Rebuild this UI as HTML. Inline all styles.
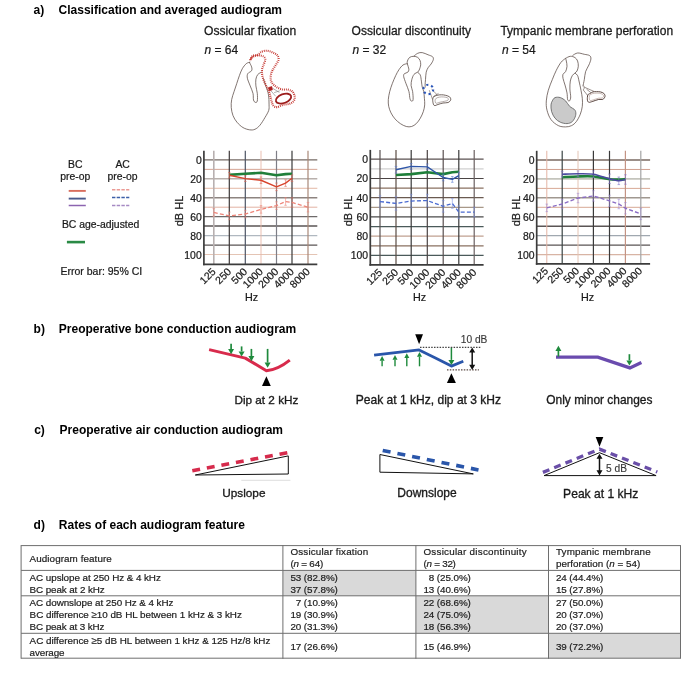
<!DOCTYPE html>
<html><head><meta charset="utf-8"><title>Audiogram figure</title>
<style>
html,body{margin:0;padding:0;background:#fff;}
body{width:685px;height:676px;overflow:hidden;}
svg{display:block;font-family:'Liberation Sans', Arial, sans-serif;}
</style></head><body>
<svg width="685" height="676" viewBox="0 0 685 676">
<rect width="685" height="676" fill="#fff"/>
<text x="33.6" y="13.9" font-size="12" font-weight="bold" fill="#000">a)</text>
<text x="58.6" y="13.9" font-size="12" font-weight="bold" fill="#000">Classification and averaged audiogram</text>
<text x="33.6" y="332.8" font-size="12" font-weight="bold" fill="#000">b)</text>
<text x="58.8" y="332.8" font-size="12" font-weight="bold" fill="#000">Preoperative bone conduction audiogram</text>
<text x="34.2" y="434.3" font-size="12" font-weight="bold" fill="#000">c)</text>
<text x="59.6" y="434.3" font-size="12" font-weight="bold" fill="#000">Preoperative air conduction audiogram</text>
<text x="33.6" y="528.7" font-size="12" font-weight="bold" fill="#000">d)</text>
<text x="58.8" y="528.7" font-size="12" font-weight="bold" fill="#000">Rates of each audiogram feature</text>
<text x="204.1" y="34.9" font-size="12.1" fill="#1a1a1a" stroke="#1a1a1a" stroke-width="0.28">Ossicular fixation</text>
<text x="351.6" y="34.9" font-size="12" fill="#1a1a1a" stroke="#1a1a1a" stroke-width="0.28">Ossicular discontinuity</text>
<text x="500.4" y="34.9" font-size="12" fill="#1a1a1a" stroke="#1a1a1a" stroke-width="0.28">Tympanic membrane perforation</text>
<text x="204.4" y="53.8" font-size="12" fill="#1a1a1a" stroke="#1a1a1a" stroke-width="0.22"><tspan font-style="italic">n</tspan> = 64</text>
<text x="352.4" y="53.8" font-size="12" fill="#1a1a1a" stroke="#1a1a1a" stroke-width="0.22"><tspan font-style="italic">n</tspan> = 32</text>
<text x="501.9" y="53.8" font-size="12" fill="#1a1a1a" stroke="#1a1a1a" stroke-width="0.22"><tspan font-style="italic">n</tspan> = 54</text>
<text x="75.3" y="167.6" font-size="10.4" text-anchor="middle" fill="#1a1a1a" stroke="#1a1a1a" stroke-width="0.22">BC</text>
<text x="75.2" y="180" font-size="10.4" text-anchor="middle" fill="#1a1a1a" stroke="#1a1a1a" stroke-width="0.22">pre-op</text>
<text x="122.6" y="167.6" font-size="10.4" text-anchor="middle" fill="#1a1a1a" stroke="#1a1a1a" stroke-width="0.22">AC</text>
<text x="122.6" y="180" font-size="10.4" text-anchor="middle" fill="#1a1a1a" stroke="#1a1a1a" stroke-width="0.22">pre-op</text>
<line x1="68.7" y1="190.9" x2="85.8" y2="190.9" stroke="#d86e5e" stroke-width="1.9"/>
<line x1="68.7" y1="198.6" x2="85.8" y2="198.6" stroke="#4a5a8c" stroke-width="1.9"/>
<line x1="68.7" y1="205.5" x2="85.8" y2="205.5" stroke="#8c64b0" stroke-width="1.5"/>
<line x1="112" y1="189.8" x2="129.3" y2="189.8" stroke="#eb9a94" stroke-width="1.6" stroke-dasharray="3.4,1.3"/>
<line x1="112" y1="197.5" x2="129.3" y2="197.5" stroke="#3d5fa8" stroke-width="1.6" stroke-dasharray="3.4,1.3"/>
<line x1="112" y1="205.5" x2="129.3" y2="205.5" stroke="#a68ac4" stroke-width="1.6" stroke-dasharray="3.4,1.3"/>
<text x="61.9" y="228.0" font-size="10.4" fill="#1a1a1a" stroke="#1a1a1a" stroke-width="0.22">BC age-adjusted</text>
<line x1="66.9" y1="242.1" x2="85" y2="242.1" stroke="#2a8a45" stroke-width="2.6"/>
<text x="60.5" y="274.7" font-size="10.5" fill="#1a1a1a" stroke="#1a1a1a" stroke-width="0.22">Error bar: 95% CI</text>
<line x1="203.9" y1="159.90" x2="317.3" y2="159.90" stroke="#746a64" stroke-width="1.4"/>
<line x1="203.9" y1="169.36" x2="317.3" y2="169.36" stroke="#d09a88" stroke-width="0.9"/>
<line x1="203.9" y1="178.82" x2="317.3" y2="178.82" stroke="#b8b0ac" stroke-width="1.6"/>
<line x1="203.9" y1="188.28" x2="317.3" y2="188.28" stroke="#e0ae98" stroke-width="0.9"/>
<line x1="203.9" y1="197.74" x2="317.3" y2="197.74" stroke="#8d8480" stroke-width="1.4"/>
<line x1="203.9" y1="207.20" x2="317.3" y2="207.20" stroke="#e0a898" stroke-width="0.9"/>
<line x1="203.9" y1="216.66" x2="317.3" y2="216.66" stroke="#6e6a6a" stroke-width="1.3"/>
<line x1="203.9" y1="226.12" x2="317.3" y2="226.12" stroke="#5a5555" stroke-width="1.5"/>
<line x1="203.9" y1="235.58" x2="317.3" y2="235.58" stroke="#b0b8c0" stroke-width="1.1"/>
<line x1="203.9" y1="245.04" x2="317.3" y2="245.04" stroke="#5a5555" stroke-width="1.3"/>
<line x1="203.9" y1="254.50" x2="317.3" y2="254.50" stroke="#e4c4b4" stroke-width="1.1"/>
<line x1="213.8" y1="150.8" x2="213.8" y2="264.3" stroke="#b8b0b0" stroke-width="1.6"/>
<line x1="229.3" y1="150.8" x2="229.3" y2="264.3" stroke="#3e3838" stroke-width="1.2"/>
<line x1="245.3" y1="150.8" x2="245.3" y2="264.3" stroke="#4c5464" stroke-width="1.2"/>
<line x1="261" y1="150.8" x2="261" y2="264.3" stroke="#e8b8a8" stroke-width="0.9"/>
<line x1="276.5" y1="150.8" x2="276.5" y2="264.3" stroke="#7e7e86" stroke-width="1.2"/>
<line x1="292" y1="150.8" x2="292" y2="264.3" stroke="#3a3a3a" stroke-width="1.2"/>
<line x1="308" y1="150.8" x2="308" y2="264.3" stroke="#a88878" stroke-width="1.2"/>
<line x1="203.9" y1="150.8" x2="203.9" y2="265.15000000000003" stroke="#3c3c3c" stroke-width="1.7"/>
<line x1="203.05" y1="264.3" x2="317.3" y2="264.3" stroke="#3c3c3c" stroke-width="1.7"/>
<text x="201.70000000000002" y="163.90" font-size="10.4" text-anchor="end" fill="#1a1a1a" stroke="#1a1a1a" stroke-width="0.22">0</text>
<text x="201.70000000000002" y="182.82" font-size="10.4" text-anchor="end" fill="#1a1a1a" stroke="#1a1a1a" stroke-width="0.22">20</text>
<text x="201.70000000000002" y="201.74" font-size="10.4" text-anchor="end" fill="#1a1a1a" stroke="#1a1a1a" stroke-width="0.22">40</text>
<text x="201.70000000000002" y="220.66" font-size="10.4" text-anchor="end" fill="#1a1a1a" stroke="#1a1a1a" stroke-width="0.22">60</text>
<text x="201.70000000000002" y="239.58" font-size="10.4" text-anchor="end" fill="#1a1a1a" stroke="#1a1a1a" stroke-width="0.22">80</text>
<text x="201.70000000000002" y="258.50" font-size="10.4" text-anchor="end" fill="#1a1a1a" stroke="#1a1a1a" stroke-width="0.22">100</text>
<text transform="translate(183.3,211) rotate(-90)" font-size="11" text-anchor="middle" fill="#1a1a1a" stroke="#1a1a1a" stroke-width="0.22">dB HL</text>
<text transform="translate(216.40,272.30) rotate(-45)" font-size="10.5" text-anchor="end" fill="#1a1a1a" stroke="#1a1a1a" stroke-width="0.22">125</text>
<text transform="translate(231.90,272.30) rotate(-45)" font-size="10.5" text-anchor="end" fill="#1a1a1a" stroke="#1a1a1a" stroke-width="0.22">250</text>
<text transform="translate(247.90,272.30) rotate(-45)" font-size="10.5" text-anchor="end" fill="#1a1a1a" stroke="#1a1a1a" stroke-width="0.22">500</text>
<text transform="translate(263.60,272.30) rotate(-45)" font-size="10.5" text-anchor="end" fill="#1a1a1a" stroke="#1a1a1a" stroke-width="0.22">1000</text>
<text transform="translate(279.10,272.30) rotate(-45)" font-size="10.5" text-anchor="end" fill="#1a1a1a" stroke="#1a1a1a" stroke-width="0.22">2000</text>
<text transform="translate(294.60,272.30) rotate(-45)" font-size="10.5" text-anchor="end" fill="#1a1a1a" stroke="#1a1a1a" stroke-width="0.22">4000</text>
<text transform="translate(310.60,272.30) rotate(-45)" font-size="10.5" text-anchor="end" fill="#1a1a1a" stroke="#1a1a1a" stroke-width="0.22">8000</text>
<text x="251.6" y="301.1" font-size="10.8" text-anchor="middle" fill="#1a1a1a" stroke="#1a1a1a" stroke-width="0.22">Hz</text>
<path d="M213.80,208.62V216.19M212.50,208.62h2.6M212.50,216.19h2.6" stroke="#ee8478" stroke-width="0.7" fill="none" opacity="0.8"/>
<path d="M229.30,212.12V219.69M228.00,212.12h2.6M228.00,219.69h2.6" stroke="#ee8478" stroke-width="0.7" fill="none" opacity="0.8"/>
<path d="M245.30,210.23V217.80M244.00,210.23h2.6M244.00,217.80h2.6" stroke="#ee8478" stroke-width="0.7" fill="none" opacity="0.8"/>
<path d="M261.00,205.59V213.16M259.70,205.59h2.6M259.70,213.16h2.6" stroke="#ee8478" stroke-width="0.7" fill="none" opacity="0.8"/>
<path d="M276.50,201.81V209.38M275.20,201.81h2.6M275.20,209.38h2.6" stroke="#ee8478" stroke-width="0.7" fill="none" opacity="0.8"/>
<path d="M285.57,197.74V205.31M284.27,197.74h2.6M284.27,205.31h2.6" stroke="#ee8478" stroke-width="0.7" fill="none" opacity="0.8"/>
<path d="M292.00,197.74V207.20M290.70,197.74h2.6M290.70,207.20h2.6" stroke="#ee8478" stroke-width="0.7" fill="none" opacity="0.8"/>
<path d="M308.00,202.47V211.93M306.70,202.47h2.6M306.70,211.93h2.6" stroke="#ee8478" stroke-width="0.7" fill="none" opacity="0.8"/>
<polyline points="213.80,212.40 229.30,215.90 245.30,214.01 261.00,209.38 276.50,205.59 285.57,201.52 292.00,202.47 308.00,207.20" fill="none" stroke="#ee8478" stroke-width="1.3" stroke-linejoin="round" stroke-dasharray="4,2.2"/>
<polyline points="229.30,174.85 245.30,173.81 261.00,172.77 276.50,175.23 285.57,174.09 292.00,173.71" fill="none" stroke="#1f7f3a" stroke-width="2.6" stroke-linejoin="round"/>
<path d="M229.30,172.39V178.06M228.00,172.39h2.6M228.00,178.06h2.6" stroke="#e06a5a" stroke-width="0.7" fill="none" opacity="0.8"/>
<path d="M245.30,175.79V181.47M244.00,175.79h2.6M244.00,181.47h2.6" stroke="#e06a5a" stroke-width="0.7" fill="none" opacity="0.8"/>
<path d="M261.00,176.93V183.55M259.70,176.93h2.6M259.70,183.55h2.6" stroke="#e06a5a" stroke-width="0.7" fill="none" opacity="0.8"/>
<path d="M276.50,183.08V190.65M275.20,183.08h2.6M275.20,190.65h2.6" stroke="#e06a5a" stroke-width="0.7" fill="none" opacity="0.8"/>
<path d="M285.57,179.77V186.39M284.27,179.77h2.6M284.27,186.39h2.6" stroke="#e06a5a" stroke-width="0.7" fill="none" opacity="0.8"/>
<path d="M292.00,174.94V181.56M290.70,174.94h2.6M290.70,181.56h2.6" stroke="#e06a5a" stroke-width="0.7" fill="none" opacity="0.8"/>
<polyline points="229.30,175.23 245.30,178.63 261.00,180.24 276.50,186.86 285.57,183.08 292.00,178.25" fill="none" stroke="#d8442c" stroke-width="1.4" stroke-linejoin="round"/>
<line x1="370.3" y1="159.20" x2="483.6" y2="159.20" stroke="#5a5050" stroke-width="1.3"/>
<line x1="370.3" y1="168.82" x2="483.6" y2="168.82" stroke="#d0d0d0" stroke-width="1.2"/>
<line x1="370.3" y1="178.44" x2="483.6" y2="178.44" stroke="#4a4444" stroke-width="1.1"/>
<line x1="370.3" y1="188.06" x2="483.6" y2="188.06" stroke="#8a7060" stroke-width="1.3"/>
<line x1="370.3" y1="197.68" x2="483.6" y2="197.68" stroke="#6a5a50" stroke-width="1.3"/>
<line x1="370.3" y1="207.30" x2="483.6" y2="207.30" stroke="#a89888" stroke-width="1.2"/>
<line x1="370.3" y1="216.92" x2="483.6" y2="216.92" stroke="#4a4a4a" stroke-width="1.2"/>
<line x1="370.3" y1="226.54" x2="483.6" y2="226.54" stroke="#4a5a5a" stroke-width="1.2"/>
<line x1="370.3" y1="236.16" x2="483.6" y2="236.16" stroke="#c0a090" stroke-width="1.3"/>
<line x1="370.3" y1="245.78" x2="483.6" y2="245.78" stroke="#8a7060" stroke-width="1.2"/>
<line x1="370.3" y1="255.40" x2="483.6" y2="255.40" stroke="#4a5a5a" stroke-width="1.2"/>
<line x1="380" y1="149.9" x2="380" y2="264.9" stroke="#5a5252" stroke-width="1.2"/>
<line x1="396" y1="149.9" x2="396" y2="264.9" stroke="#5a4c44" stroke-width="1.2"/>
<line x1="411.2" y1="149.9" x2="411.2" y2="264.9" stroke="#3a3a3a" stroke-width="1.2"/>
<line x1="427.3" y1="149.9" x2="427.3" y2="264.9" stroke="#4a4242" stroke-width="1.2"/>
<line x1="443.2" y1="149.9" x2="443.2" y2="264.9" stroke="#5a5050" stroke-width="1.2"/>
<line x1="458.8" y1="149.9" x2="458.8" y2="264.9" stroke="#3a3a3a" stroke-width="1.2"/>
<line x1="474.2" y1="149.9" x2="474.2" y2="264.9" stroke="#6a6060" stroke-width="1.2"/>
<line x1="370.3" y1="149.9" x2="370.3" y2="265.75" stroke="#3c3c3c" stroke-width="1.7"/>
<line x1="369.45" y1="264.9" x2="483.6" y2="264.9" stroke="#3c3c3c" stroke-width="1.7"/>
<text x="368.1" y="163.20" font-size="10.4" text-anchor="end" fill="#1a1a1a" stroke="#1a1a1a" stroke-width="0.22">0</text>
<text x="368.1" y="182.44" font-size="10.4" text-anchor="end" fill="#1a1a1a" stroke="#1a1a1a" stroke-width="0.22">20</text>
<text x="368.1" y="201.68" font-size="10.4" text-anchor="end" fill="#1a1a1a" stroke="#1a1a1a" stroke-width="0.22">40</text>
<text x="368.1" y="220.92" font-size="10.4" text-anchor="end" fill="#1a1a1a" stroke="#1a1a1a" stroke-width="0.22">60</text>
<text x="368.1" y="240.16" font-size="10.4" text-anchor="end" fill="#1a1a1a" stroke="#1a1a1a" stroke-width="0.22">80</text>
<text x="368.1" y="259.40" font-size="10.4" text-anchor="end" fill="#1a1a1a" stroke="#1a1a1a" stroke-width="0.22">100</text>
<text transform="translate(352.2,211) rotate(-90)" font-size="11" text-anchor="middle" fill="#1a1a1a" stroke="#1a1a1a" stroke-width="0.22">dB HL</text>
<text transform="translate(382.90,273.10) rotate(-45)" font-size="10.5" text-anchor="end" fill="#1a1a1a" stroke="#1a1a1a" stroke-width="0.22">125</text>
<text transform="translate(398.90,273.10) rotate(-45)" font-size="10.5" text-anchor="end" fill="#1a1a1a" stroke="#1a1a1a" stroke-width="0.22">250</text>
<text transform="translate(414.10,273.10) rotate(-45)" font-size="10.5" text-anchor="end" fill="#1a1a1a" stroke="#1a1a1a" stroke-width="0.22">500</text>
<text transform="translate(430.20,273.10) rotate(-45)" font-size="10.5" text-anchor="end" fill="#1a1a1a" stroke="#1a1a1a" stroke-width="0.22">1000</text>
<text transform="translate(446.10,273.10) rotate(-45)" font-size="10.5" text-anchor="end" fill="#1a1a1a" stroke="#1a1a1a" stroke-width="0.22">2000</text>
<text transform="translate(461.70,273.10) rotate(-45)" font-size="10.5" text-anchor="end" fill="#1a1a1a" stroke="#1a1a1a" stroke-width="0.22">4000</text>
<text transform="translate(477.10,273.10) rotate(-45)" font-size="10.5" text-anchor="end" fill="#1a1a1a" stroke="#1a1a1a" stroke-width="0.22">8000</text>
<text x="419.6" y="301.1" font-size="10.8" text-anchor="middle" fill="#1a1a1a" stroke="#1a1a1a" stroke-width="0.22">Hz</text>
<path d="M380.00,195.76V207.30M378.70,195.76h2.6M378.70,207.30h2.6" stroke="#7a90e0" stroke-width="0.7" fill="none" opacity="0.8"/>
<path d="M396.00,196.72V210.19M394.70,196.72h2.6M394.70,210.19h2.6" stroke="#7a90e0" stroke-width="0.7" fill="none" opacity="0.8"/>
<path d="M411.20,194.31V207.78M409.90,194.31h2.6M409.90,207.78h2.6" stroke="#7a90e0" stroke-width="0.7" fill="none" opacity="0.8"/>
<path d="M427.30,194.31V206.82M426.00,194.31h2.6M426.00,206.82h2.6" stroke="#7a90e0" stroke-width="0.7" fill="none" opacity="0.8"/>
<path d="M443.20,200.57V212.11M441.90,200.57h2.6M441.90,212.11h2.6" stroke="#7a90e0" stroke-width="0.7" fill="none" opacity="0.8"/>
<path d="M452.33,198.64V208.26M451.03,198.64h2.6M451.03,208.26h2.6" stroke="#7a90e0" stroke-width="0.7" fill="none" opacity="0.8"/>
<path d="M458.80,205.86V218.36M457.50,205.86h2.6M457.50,218.36h2.6" stroke="#7a90e0" stroke-width="0.7" fill="none" opacity="0.8"/>
<path d="M474.20,207.30V216.92M472.90,207.30h2.6M472.90,216.92h2.6" stroke="#7a90e0" stroke-width="0.7" fill="none" opacity="0.8"/>
<polyline points="380.00,201.53 396.00,203.45 411.20,201.05 427.30,200.57 443.20,206.34 452.33,203.45 458.80,212.11 474.20,212.11" fill="none" stroke="#4a6ad0" stroke-width="1.3" stroke-linejoin="round" stroke-dasharray="4,2.2"/>
<polyline points="396.00,175.07 411.20,174.11 427.30,172.19 443.20,174.11 452.33,172.19 458.80,171.71" fill="none" stroke="#1f7f3a" stroke-width="2.6" stroke-linejoin="round"/>
<path d="M396.00,166.41V173.15M394.70,166.41h2.6M394.70,173.15h2.6" stroke="#5a7ad0" stroke-width="0.7" fill="none" opacity="0.8"/>
<path d="M411.20,163.53V169.30M409.90,163.53h2.6M409.90,169.30h2.6" stroke="#5a7ad0" stroke-width="0.7" fill="none" opacity="0.8"/>
<path d="M427.30,164.01V169.78M426.00,164.01h2.6M426.00,169.78h2.6" stroke="#5a7ad0" stroke-width="0.7" fill="none" opacity="0.8"/>
<path d="M443.20,174.11V180.84M441.90,174.11h2.6M441.90,180.84h2.6" stroke="#5a7ad0" stroke-width="0.7" fill="none" opacity="0.8"/>
<path d="M452.33,176.52V182.29M451.03,176.52h2.6M451.03,182.29h2.6" stroke="#5a7ad0" stroke-width="0.7" fill="none" opacity="0.8"/>
<path d="M458.80,172.19V178.92M457.50,172.19h2.6M457.50,178.92h2.6" stroke="#5a7ad0" stroke-width="0.7" fill="none" opacity="0.8"/>
<polyline points="396.00,169.78 411.20,166.41 427.30,166.90 443.20,177.48 452.33,179.40 458.80,175.55" fill="none" stroke="#2f56a8" stroke-width="1.4" stroke-linejoin="round"/>
<line x1="536.7" y1="160.00" x2="650.1" y2="160.00" stroke="#7a6a62" stroke-width="1.4"/>
<line x1="536.7" y1="169.46" x2="650.1" y2="169.46" stroke="#d0a090" stroke-width="1.0"/>
<line x1="536.7" y1="178.92" x2="650.1" y2="178.92" stroke="#c4c4bc" stroke-width="1.7"/>
<line x1="536.7" y1="188.38" x2="650.1" y2="188.38" stroke="#d8a894" stroke-width="1.0"/>
<line x1="536.7" y1="197.84" x2="650.1" y2="197.84" stroke="#a09890" stroke-width="1.5"/>
<line x1="536.7" y1="207.30" x2="650.1" y2="207.30" stroke="#d8a894" stroke-width="1.0"/>
<line x1="536.7" y1="216.76" x2="650.1" y2="216.76" stroke="#6a6060" stroke-width="1.3"/>
<line x1="536.7" y1="226.22" x2="650.1" y2="226.22" stroke="#5a5555" stroke-width="1.4"/>
<line x1="536.7" y1="235.68" x2="650.1" y2="235.68" stroke="#a0a8b0" stroke-width="1.3"/>
<line x1="536.7" y1="245.14" x2="650.1" y2="245.14" stroke="#5a5555" stroke-width="1.3"/>
<line x1="536.7" y1="254.60" x2="650.1" y2="254.60" stroke="#d8b4a4" stroke-width="1.1"/>
<line x1="546.8" y1="150.8" x2="546.8" y2="263.9" stroke="#e4b4a4" stroke-width="1.0"/>
<line x1="562.2" y1="150.8" x2="562.2" y2="263.9" stroke="#3a4444" stroke-width="1.2"/>
<line x1="578" y1="150.8" x2="578" y2="263.9" stroke="#e4c4b4" stroke-width="1.0"/>
<line x1="593.4" y1="150.8" x2="593.4" y2="263.9" stroke="#3a3a3a" stroke-width="1.2"/>
<line x1="609.5" y1="150.8" x2="609.5" y2="263.9" stroke="#3a3a3a" stroke-width="1.2"/>
<line x1="625.4" y1="150.8" x2="625.4" y2="263.9" stroke="#c49484" stroke-width="1.2"/>
<line x1="640.8" y1="150.8" x2="640.8" y2="263.9" stroke="#a4a4a4" stroke-width="1.2"/>
<line x1="536.7" y1="150.8" x2="536.7" y2="264.75" stroke="#3c3c3c" stroke-width="1.7"/>
<line x1="535.85" y1="263.9" x2="650.1" y2="263.9" stroke="#3c3c3c" stroke-width="1.7"/>
<text x="534.5" y="164.00" font-size="10.4" text-anchor="end" fill="#1a1a1a" stroke="#1a1a1a" stroke-width="0.22">0</text>
<text x="534.5" y="182.92" font-size="10.4" text-anchor="end" fill="#1a1a1a" stroke="#1a1a1a" stroke-width="0.22">20</text>
<text x="534.5" y="201.84" font-size="10.4" text-anchor="end" fill="#1a1a1a" stroke="#1a1a1a" stroke-width="0.22">40</text>
<text x="534.5" y="220.76" font-size="10.4" text-anchor="end" fill="#1a1a1a" stroke="#1a1a1a" stroke-width="0.22">60</text>
<text x="534.5" y="239.68" font-size="10.4" text-anchor="end" fill="#1a1a1a" stroke="#1a1a1a" stroke-width="0.22">80</text>
<text x="534.5" y="258.60" font-size="10.4" text-anchor="end" fill="#1a1a1a" stroke="#1a1a1a" stroke-width="0.22">100</text>
<text transform="translate(519.6,211) rotate(-90)" font-size="11" text-anchor="middle" fill="#1a1a1a" stroke="#1a1a1a" stroke-width="0.22">dB HL</text>
<text transform="translate(548.80,271.70) rotate(-45)" font-size="10.5" text-anchor="end" fill="#1a1a1a" stroke="#1a1a1a" stroke-width="0.22">125</text>
<text transform="translate(564.20,271.70) rotate(-45)" font-size="10.5" text-anchor="end" fill="#1a1a1a" stroke="#1a1a1a" stroke-width="0.22">250</text>
<text transform="translate(580.00,271.70) rotate(-45)" font-size="10.5" text-anchor="end" fill="#1a1a1a" stroke="#1a1a1a" stroke-width="0.22">500</text>
<text transform="translate(595.40,271.70) rotate(-45)" font-size="10.5" text-anchor="end" fill="#1a1a1a" stroke="#1a1a1a" stroke-width="0.22">1000</text>
<text transform="translate(611.50,271.70) rotate(-45)" font-size="10.5" text-anchor="end" fill="#1a1a1a" stroke="#1a1a1a" stroke-width="0.22">2000</text>
<text transform="translate(627.40,271.70) rotate(-45)" font-size="10.5" text-anchor="end" fill="#1a1a1a" stroke="#1a1a1a" stroke-width="0.22">4000</text>
<text transform="translate(642.80,271.70) rotate(-45)" font-size="10.5" text-anchor="end" fill="#1a1a1a" stroke="#1a1a1a" stroke-width="0.22">8000</text>
<text x="587.6" y="301.1" font-size="10.8" text-anchor="middle" fill="#1a1a1a" stroke="#1a1a1a" stroke-width="0.22">Hz</text>
<path d="M546.80,204.08V211.65M545.50,204.08h2.6M545.50,211.65h2.6" stroke="#a088d4" stroke-width="0.7" fill="none" opacity="0.8"/>
<path d="M562.20,199.26V208.72M560.90,199.26h2.6M560.90,208.72h2.6" stroke="#a088d4" stroke-width="0.7" fill="none" opacity="0.8"/>
<path d="M578.00,193.30V202.76M576.70,193.30h2.6M576.70,202.76h2.6" stroke="#a088d4" stroke-width="0.7" fill="none" opacity="0.8"/>
<path d="M593.40,190.75V201.15M592.10,190.75h2.6M592.10,201.15h2.6" stroke="#a088d4" stroke-width="0.7" fill="none" opacity="0.8"/>
<path d="M609.50,195.19V206.54M608.20,195.19h2.6M608.20,206.54h2.6" stroke="#a088d4" stroke-width="0.7" fill="none" opacity="0.8"/>
<path d="M618.80,199.26V208.72M617.50,199.26h2.6M617.50,208.72h2.6" stroke="#a088d4" stroke-width="0.7" fill="none" opacity="0.8"/>
<path d="M625.40,202.57V213.92M624.10,202.57h2.6M624.10,213.92h2.6" stroke="#a088d4" stroke-width="0.7" fill="none" opacity="0.8"/>
<path d="M640.80,208.25V219.60M639.50,208.25h2.6M639.50,219.60h2.6" stroke="#a088d4" stroke-width="0.7" fill="none" opacity="0.8"/>
<polyline points="546.80,207.87 562.20,203.99 578.00,198.03 593.40,195.95 609.50,200.87 618.80,203.99 625.40,208.25 640.80,213.92" fill="none" stroke="#8a6cc4" stroke-width="1.4" stroke-linejoin="round" stroke-dasharray="4,2.2"/>
<path d="M562.20,177.22 C564.31,177.12 573.84,176.56 578.00,176.46 C582.16,176.36 589.20,176.09 593.40,176.46 C597.60,176.83 606.11,178.80 609.50,179.20 C612.89,179.61 616.68,179.50 618.80,179.49 C620.92,179.47 624.52,179.16 625.40,179.11" fill="none" stroke="#1f7f3a" stroke-width="2.6" stroke-linejoin="round"/>
<path d="M562.20,171.35V177.03M560.90,171.35h2.6M560.90,177.03h2.6" stroke="#8070c8" stroke-width="0.7" fill="none" opacity="0.8"/>
<path d="M578.00,170.88V176.56M576.70,170.88h2.6M576.70,176.56h2.6" stroke="#8070c8" stroke-width="0.7" fill="none" opacity="0.8"/>
<path d="M593.40,170.88V177.50M592.10,170.88h2.6M592.10,177.50h2.6" stroke="#8070c8" stroke-width="0.7" fill="none" opacity="0.8"/>
<path d="M609.50,174.10V183.56M608.20,174.10h2.6M608.20,183.56h2.6" stroke="#8070c8" stroke-width="0.7" fill="none" opacity="0.8"/>
<path d="M618.80,177.03V184.60M617.50,177.03h2.6M617.50,184.60h2.6" stroke="#8070c8" stroke-width="0.7" fill="none" opacity="0.8"/>
<path d="M625.40,174.76V184.22M624.10,174.76h2.6M624.10,184.22h2.6" stroke="#8070c8" stroke-width="0.7" fill="none" opacity="0.8"/>
<path d="M562.20,174.19 C564.31,174.13 573.84,173.72 578.00,173.72 C582.16,173.72 589.20,173.51 593.40,174.19 C597.60,174.87 606.11,177.94 609.50,178.83 C612.89,179.71 616.68,180.72 618.80,180.81 C620.92,180.90 624.52,179.66 625.40,179.49" fill="none" stroke="#4a4aa0" stroke-width="1.6" stroke-linejoin="round"/>
<path d="M209.1,349.6 L245.3,358.1 L266.4,370.8 C275,370 283,365.5 289.8,360.1" fill="none" stroke="#d82b4c" stroke-width="3" stroke-linejoin="round"/>
<line x1="231.1" y1="343.8" x2="231.1" y2="349.0" stroke="#1e8a3c" stroke-width="1.7"/>
<path d="M228.1,349.0 L234.1,349.0 L231.1,354.2 Z" fill="#1e8a3c"/>
<line x1="241.6" y1="346.4" x2="241.6" y2="351.40000000000003" stroke="#1e8a3c" stroke-width="1.7"/>
<path d="M238.6,351.40000000000003 L244.6,351.40000000000003 L241.6,356.6 Z" fill="#1e8a3c"/>
<line x1="251.4" y1="348.9" x2="251.4" y2="356.1" stroke="#1e8a3c" stroke-width="1.7"/>
<path d="M248.4,356.1 L254.4,356.1 L251.4,361.3 Z" fill="#1e8a3c"/>
<line x1="267.6" y1="348.9" x2="267.6" y2="362.6" stroke="#1e8a3c" stroke-width="1.7"/>
<path d="M264.6,362.6 L270.6,362.6 L267.6,367.8 Z" fill="#1e8a3c"/>
<path d="M262.0,386.1 L270.79999999999995,386.1 L266.4,376.3 Z" fill="#000"/>
<text x="234.4" y="404.4" font-size="11.75" fill="#1a1a1a" stroke="#1a1a1a" stroke-width="0.32">Dip at 2 kHz</text>
<path d="M374.1,355.2 L419.1,349.9 Q436,358 451.4,366.1 L463.3,361.3" fill="none" stroke="#2a56aa" stroke-width="2.8" stroke-linejoin="round"/>
<line x1="382.1" y1="366.3" x2="382.1" y2="360.7" stroke="#1e8a3c" stroke-width="1.4"/>
<path d="M379.6,360.7 L384.6,360.7 L382.1,355.9 Z" fill="#1e8a3c"/>
<line x1="395" y1="366.3" x2="395" y2="359.7" stroke="#1e8a3c" stroke-width="1.4"/>
<path d="M392.5,359.7 L397.5,359.7 L395,354.9 Z" fill="#1e8a3c"/>
<line x1="406.8" y1="366.3" x2="406.8" y2="358.0" stroke="#1e8a3c" stroke-width="1.4"/>
<path d="M404.3,358.0 L409.3,358.0 L406.8,353.2 Z" fill="#1e8a3c"/>
<line x1="419.5" y1="366.3" x2="419.5" y2="356.7" stroke="#1e8a3c" stroke-width="1.4"/>
<path d="M417.0,356.7 L422.0,356.7 L419.5,351.9 Z" fill="#1e8a3c"/>
<line x1="451.4" y1="347.5" x2="451.4" y2="359.90000000000003" stroke="#1e8a3c" stroke-width="1.5"/>
<path d="M448.4,359.90000000000003 L454.4,359.90000000000003 L451.4,365.1 Z" fill="#1e8a3c"/>
<path d="M415.20000000000005,334.2 L423.0,334.2 L419.1,344.2 Z" fill="#000"/>
<path d="M446.9,383.1 L455.9,383.1 L451.4,373.3 Z" fill="#000"/>
<line x1="420" y1="347.4" x2="481.2" y2="347.4" stroke="#444" stroke-width="1.2" stroke-dasharray="1.5,1.3"/>
<line x1="447" y1="369.9" x2="478.9" y2="369.9" stroke="#5a4a45" stroke-width="1.2" stroke-dasharray="1.5,1.3"/>
<line x1="472.2" y1="350" x2="472.2" y2="367.4" stroke="#111" stroke-width="1.5"/>
<path d="M469.2,352.6 L475.2,352.6 L472.2,347.5 Z M469.2,364.8 L475.2,364.8 L472.2,369.9 Z" fill="#111"/>
<text x="460.8" y="343.0" font-size="10.2" fill="#3a3a3a" stroke="#3a3a3a" stroke-width="0.15">10 dB</text>
<text x="355.8" y="404.3" font-size="12.05" fill="#1a1a1a" stroke="#1a1a1a" stroke-width="0.32">Peak at 1 kHz, dip at 3 kHz</text>
<path d="M556,357.2 L597.8,357.2 L629.9,367.9 L641.4,362.4" fill="none" stroke="#6a4bae" stroke-width="3.3" stroke-linejoin="miter"/>
<line x1="558.4" y1="356.6" x2="558.4" y2="350.9" stroke="#1e8a3c" stroke-width="1.7"/>
<path d="M555.4,350.9 L561.4,350.9 L558.4,345.7 Z" fill="#1e8a3c"/>
<line x1="629.4" y1="354.2" x2="629.4" y2="360.40000000000003" stroke="#1e8a3c" stroke-width="1.7"/>
<path d="M626.4,360.40000000000003 L632.4,360.40000000000003 L629.4,365.6 Z" fill="#1e8a3c"/>
<text x="546.3" y="403.9" font-size="11.95" fill="#1a1a1a" stroke="#1a1a1a" stroke-width="0.32">Only minor changes</text>
<path d="M195.3,475 L288.3,455.9 L288.3,474 Z" fill="#fff" stroke="#111" stroke-width="1" stroke-linejoin="miter"/>
<line x1="241.3" y1="480.3" x2="290.4" y2="480.3" stroke="#d4d4d4" stroke-width="0.8"/>
<line x1="192.3" y1="470.7" x2="289.3" y2="452.3" stroke="#d62b4c" stroke-width="3.6" stroke-dasharray="7.9,6.9"/>
<text x="222.2" y="497.1" font-size="11.8" fill="#1a1a1a" stroke="#1a1a1a" stroke-width="0.32">Upslope</text>
<path d="M379.9,454.5 L379.9,472.2 L473.3,473.9 Z" fill="#fff" stroke="#111" stroke-width="1" stroke-linejoin="miter"/>
<line x1="382.7" y1="450.5" x2="478.5" y2="469.9" stroke="#2a56aa" stroke-width="3.6" stroke-dasharray="8,7"/>
<text x="397.3" y="497.3" font-size="12" fill="#1a1a1a" stroke="#1a1a1a" stroke-width="0.32">Downslope</text>
<path d="M544.1,475.6 L599.5,452.7 L656.1,475.6 Z" fill="#fff" stroke="#111" stroke-width="1"/>
<polyline points="542.9,472.4 599.5,449.1 657.3,472" fill="none" stroke="#6a4fa8" stroke-width="3.3" stroke-dasharray="7,5.2"/>
<path d="M595.7,437 L603.3,437 L599.5,446.7 Z" fill="#000"/>
<line x1="599.5" y1="457" x2="599.5" y2="472" stroke="#111" stroke-width="1.5"/>
<path d="M596.5,458.8 L602.5,458.8 L599.5,453.7 Z M596.5,470.3 L602.5,470.3 L599.5,475.4 Z" fill="#111"/>
<text x="606.0" y="472.2" font-size="10.2" fill="#3a3a3a" stroke="#3a3a3a" stroke-width="0.15">5 dB</text>
<text x="563.1" y="497.5" font-size="12.1" fill="#1a1a1a" stroke="#1a1a1a" stroke-width="0.32">Peak at 1 kHz</text>
<path d="M250.30,62.04 C249.63,62.31 247.64,62.53 246.30,63.64 C244.97,64.75 243.46,66.70 242.31,68.70 C241.16,70.70 240.31,73.14 239.38,75.63 C238.45,78.11 237.61,80.95 236.72,83.62 C235.83,86.28 234.90,88.94 234.05,91.60 C233.21,94.27 232.12,96.93 231.66,99.59 C231.19,102.26 231.04,104.92 231.26,107.58 C231.48,110.25 232.04,113.13 232.99,115.57 C233.94,118.01 235.32,120.23 236.98,122.23 C238.65,124.23 240.87,126.29 242.98,127.56 C245.08,128.82 247.64,129.53 249.63,129.82 C251.63,130.11 253.25,130.04 254.96,129.29 C256.67,128.53 258.22,127.25 259.89,125.29 C261.55,123.34 263.48,120.03 264.95,117.57 C266.41,115.11 267.99,112.62 268.68,110.51 C269.36,108.40 269.03,106.74 269.07,104.92 C269.12,103.10 269.05,101.32 268.94,99.59 C268.83,97.86 268.68,96.09 268.41,94.53 C268.14,92.98 267.92,92.09 267.34,90.27 C266.77,88.45 265.61,85.61 264.95,83.62 C264.28,81.62 263.62,79.18 263.35,78.29" fill="none" stroke="#4a3a34" stroke-width="0.7" stroke-linejoin="round"/>
<path d="M249.30,62.20 C249.68,62.98 251.22,65.48 251.60,66.90 C251.98,68.32 252.23,69.58 251.60,70.70 C250.97,71.82 248.50,72.33 247.80,73.60 C247.10,74.87 247.00,76.25 247.40,78.30 C247.80,80.35 249.27,83.38 250.20,85.90 C251.13,88.42 252.45,91.05 253.00,93.40 C253.55,95.75 253.10,98.50 253.50,100.00 C253.90,101.50 254.77,102.23 255.40,102.40 C256.03,102.57 256.98,102.50 257.30,101.00 C257.62,99.50 257.53,95.92 257.30,93.40 C257.07,90.88 256.13,88.27 255.90,85.90 C255.67,83.53 255.58,81.10 255.90,79.20 C256.22,77.30 256.85,75.68 257.80,74.50 C258.75,73.32 260.97,72.50 261.60,72.10" fill="none" stroke="#4a3a34" stroke-width="0.7" stroke-linejoin="round"/>
<path d="M270.8,90.6 L275.6,96.2 M272.4,88.2 L279.4,92.4 M274.2,92.6 L279.8,90.8" fill="none" stroke="#7a7a7a" stroke-width="0.6" stroke-linejoin="round"/>
<ellipse cx="283.5" cy="98.6" rx="8" ry="4.4" transform="rotate(-20 283.5 98.6)" fill="#fff" stroke="#9c1c1c" stroke-width="1.8"/>
<path d="M268.5,87.6 L271.8,86.6 L272.4,89.8 L269.3,90.8 Z" fill="#b02020" stroke="#b02020" stroke-width="0.7" stroke-linejoin="round"/>
<path d="M250.20,60.30 C250.20,60.13 251.27,56.95 252.60,56.00 C253.93,55.05 256.87,55.22 258.20,54.60 C259.53,53.98 259.48,52.93 260.60,52.30 C261.72,51.67 263.40,50.97 264.90,50.80 C266.40,50.63 268.03,50.90 269.60,51.30 C271.17,51.70 272.97,52.48 274.30,53.20 C275.63,53.92 276.88,54.57 277.60,55.60 C278.32,56.63 278.75,58.07 278.60,59.40 C278.45,60.73 277.48,62.18 276.70,63.60 C275.92,65.02 274.77,66.40 273.90,67.90 C273.03,69.40 272.05,70.87 271.50,72.60 C270.95,74.33 270.52,76.57 270.60,78.30 C270.68,80.03 271.07,81.58 272.00,83.00 C272.93,84.42 274.55,85.73 276.20,86.80 C277.85,87.87 280.00,88.93 281.90,89.40 C283.80,89.87 285.87,89.25 287.60,89.60 C289.33,89.95 291.12,90.38 292.30,91.50 C293.48,92.62 294.47,94.72 294.70,96.30 C294.93,97.88 294.57,99.75 293.70,101.00 C292.83,102.25 291.30,103.17 289.50,103.80 C287.70,104.43 284.95,104.25 282.90,104.80 C280.85,105.35 278.78,106.95 277.20,107.10 C275.62,107.25 274.35,106.72 273.40,105.70 C272.45,104.68 272.13,103.05 271.50,101.00 C270.87,98.95 270.23,95.45 269.60,93.40 C268.97,91.35 268.48,90.43 267.70,88.70 C266.92,86.97 265.77,85.05 264.90,83.00 C264.03,80.95 262.98,78.60 262.50,76.40 C262.02,74.20 261.83,71.70 262.00,69.80 C262.17,67.90 262.95,66.73 263.50,65.00 C264.05,63.27 265.30,60.82 265.30,59.40 C265.30,57.98 264.37,57.13 263.50,56.50 C262.63,55.87 261.28,55.75 260.10,55.60 C258.92,55.45 257.65,55.37 256.40,55.60 C255.15,55.83 253.63,56.22 252.60,57.00 C251.57,57.78 250.20,60.47 250.20,60.30Z" fill="none" stroke="#c4342e" stroke-width="2.1" stroke-linejoin="round" stroke-dasharray="0.9,1.05"/>
<path d="M407.40,63.60 C406.67,63.83 404.40,64.00 403.00,65.00 C401.60,66.00 400.22,67.83 399.00,69.60 C397.78,71.37 396.82,73.27 395.70,75.60 C394.58,77.93 393.30,80.93 392.30,83.60 C391.30,86.27 390.37,88.93 389.70,91.60 C389.03,94.27 388.47,97.15 388.30,99.60 C388.13,102.05 388.25,104.08 388.70,106.30 C389.15,108.52 389.95,110.80 391.00,112.90 C392.05,115.00 393.45,117.12 395.00,118.90 C396.55,120.68 398.42,122.33 400.30,123.60 C402.18,124.87 404.42,126.02 406.30,126.50 C408.18,126.98 409.93,126.98 411.60,126.50 C413.27,126.02 414.85,124.98 416.30,123.60 C417.75,122.22 419.13,120.20 420.30,118.20 C421.47,116.20 422.57,113.82 423.30,111.60 C424.03,109.38 424.52,107.12 424.70,104.90 C424.88,102.68 424.57,100.55 424.40,98.30 C424.23,96.05 424.07,93.28 423.70,91.40 C423.33,89.52 422.58,88.72 422.20,87.00 C421.82,85.28 421.72,83.08 421.40,81.10 C421.08,79.12 420.92,76.58 420.30,75.10 C419.68,73.62 418.13,72.68 417.70,72.20" fill="none" stroke="#4a3a34" stroke-width="0.7" stroke-linejoin="round"/>
<path d="M417.70,72.20 C417.95,71.83 418.70,71.23 419.20,70.00 C419.70,68.77 420.57,66.40 420.70,64.80 C420.83,63.20 420.50,61.63 420.00,60.40 C419.50,59.17 418.75,58.08 417.70,57.40 C416.65,56.72 415.05,56.30 413.70,56.30 C412.35,56.30 410.65,56.60 409.60,57.40 C408.55,58.20 407.77,60.00 407.40,61.10 C407.03,62.20 407.15,62.65 407.40,64.00 C407.65,65.35 408.83,67.83 408.90,69.20 C408.97,70.57 408.55,71.45 407.80,72.20 C407.05,72.95 405.08,72.97 404.40,73.70 C403.72,74.43 403.45,75.00 403.70,76.60 C403.95,78.20 405.03,80.83 405.90,83.30 C406.77,85.77 408.22,88.82 408.90,91.40 C409.58,93.98 409.55,97.17 410.00,98.80 C410.45,100.43 411.08,101.08 411.60,101.20 C412.12,101.32 412.93,101.13 413.10,99.50 C413.27,97.87 412.93,93.73 412.60,91.40 C412.27,89.07 411.23,87.47 411.10,85.50 C410.97,83.53 411.32,81.45 411.80,79.60 C412.28,77.75 413.02,75.63 414.00,74.40 C414.98,73.17 417.08,72.57 417.70,72.20" fill="none" stroke="#4a3a34" stroke-width="0.7" stroke-linejoin="round"/>
<path d="M413.70,56.30 C414.37,55.80 416.28,53.92 417.70,53.30 C419.12,52.68 420.47,52.35 422.20,52.60 C423.93,52.85 426.38,54.12 428.10,54.80 C429.82,55.48 431.63,55.90 432.50,56.70 C433.37,57.50 433.53,58.38 433.30,59.60 C433.07,60.82 431.97,62.65 431.10,64.00 C430.23,65.35 428.92,66.33 428.10,67.70 C427.28,69.07 426.63,70.22 426.20,72.20 C425.77,74.18 425.68,77.50 425.50,79.60 C425.32,81.70 425.13,83.48 425.10,84.80 C425.07,86.12 425.27,87.05 425.30,87.50" fill="none" stroke="#4a3a34" stroke-width="0.7" stroke-linejoin="round"/>
<path d="M429.3,90.2 L432.6,99.6 M431.5,89.2 L437,94.6 M433,96.8 L438.5,93.4" fill="none" stroke="#6a5a55" stroke-width="0.6" stroke-linejoin="round"/>
<path d="M432.80,101.50 C432.97,102.85 433.45,105.00 434.30,105.50 C435.15,106.00 436.45,104.92 437.90,104.50 C439.35,104.08 441.30,103.33 443.00,103.00 C444.70,102.67 446.82,103.02 448.10,102.50 C449.38,101.98 450.45,100.83 450.70,99.90 C450.95,98.97 450.47,97.67 449.60,96.90 C448.73,96.13 446.85,95.65 445.50,95.30 C444.15,94.95 442.93,94.80 441.50,94.80 C440.07,94.80 438.27,94.87 436.90,95.30 C435.53,95.73 433.98,96.37 433.30,97.40 C432.62,98.43 432.63,100.15 432.80,101.50Z" fill="#fff" stroke="#4a3a34" stroke-width="0.8" stroke-linejoin="round"/>
<path d="M435.20,101.80 C435.35,102.48 435.50,103.23 436.30,103.30 C437.10,103.37 438.63,102.53 440.00,102.20 C441.37,101.87 443.23,101.60 444.50,101.30 C445.77,101.00 446.97,100.85 447.60,100.40 C448.23,99.95 448.57,99.12 448.30,98.60 C448.03,98.08 447.13,97.58 446.00,97.30 C444.87,97.02 442.92,96.85 441.50,96.90 C440.08,96.95 438.52,97.22 437.50,97.60 C436.48,97.98 435.78,98.50 435.40,99.20 C435.02,99.90 435.05,101.12 435.20,101.80Z" fill="none" stroke="#7a6a66" stroke-width="0.55" stroke-linejoin="round"/>
<ellipse cx="428.3" cy="89.4" rx="4.9" ry="4.7" fill="none" stroke="#2a55b8" stroke-width="2.1" stroke-dasharray="2.1,2.9"/>
<path d="M565.60,58.30 C564.83,58.97 562.55,60.30 561.00,62.30 C559.45,64.30 557.75,67.42 556.30,70.30 C554.85,73.18 553.63,76.27 552.30,79.60 C550.97,82.93 549.30,86.75 548.30,90.30 C547.30,93.85 546.52,97.58 546.30,100.90 C546.08,104.22 546.22,107.08 547.00,110.20 C547.78,113.32 549.12,117.03 551.00,119.60 C552.88,122.17 555.87,124.38 558.30,125.60 C560.73,126.82 563.38,126.90 565.60,126.90 C567.82,126.90 569.82,126.48 571.60,125.60 C573.38,124.72 574.85,123.50 576.30,121.60 C577.75,119.70 579.30,116.75 580.30,114.20 C581.30,111.65 581.97,108.95 582.30,106.30 C582.63,103.65 582.52,100.97 582.30,98.30 C582.08,95.63 581.55,93.18 581.00,90.30 C580.45,87.42 579.57,83.45 579.00,81.00 C578.43,78.55 578.27,76.93 577.60,75.60 C576.93,74.27 575.43,73.43 575.00,73.00" fill="none" stroke="#4a3a34" stroke-width="0.7" stroke-linejoin="round"/>
<path d="M565.60,58.30 C566.38,57.97 568.73,56.42 570.30,56.30 C571.87,56.18 573.78,56.82 575.00,57.60 C576.22,58.38 577.05,59.55 577.60,61.00 C578.15,62.45 578.40,64.63 578.30,66.30 C578.20,67.97 577.55,69.88 577.00,71.00 C576.45,72.12 575.78,72.23 575.00,73.00 C574.22,73.77 573.08,74.27 572.30,75.60 C571.52,76.93 570.70,78.77 570.30,81.00 C569.90,83.23 569.83,86.35 569.90,89.00 C569.97,91.65 570.70,95.02 570.70,96.90 C570.70,98.78 570.18,99.63 569.90,100.30 C569.62,100.97 569.38,101.02 569.00,100.90 C568.62,100.78 567.93,100.93 567.60,99.60 C567.27,98.27 567.43,95.33 567.00,92.90 C566.57,90.47 565.67,87.43 565.00,85.00 C564.33,82.57 563.33,80.08 563.00,78.30 C562.67,76.52 562.57,75.42 563.00,74.30 C563.43,73.18 564.93,72.93 565.60,71.60 C566.27,70.27 566.88,68.07 567.00,66.30 C567.12,64.53 566.53,62.33 566.30,61.00 C566.07,59.67 565.72,58.75 565.60,58.30" fill="none" stroke="#4a3a34" stroke-width="0.7" stroke-linejoin="round"/>
<path d="M572.50,55.50 C573.35,55.08 575.63,53.20 577.60,53.00 C579.57,52.80 582.30,53.87 584.30,54.30 C586.30,54.73 588.50,54.82 589.60,55.60 C590.70,56.38 591.02,57.43 590.90,59.00 C590.78,60.57 589.78,62.90 588.90,65.00 C588.02,67.10 586.37,69.17 585.60,71.60 C584.83,74.03 584.75,77.15 584.30,79.60 C583.85,82.05 583.13,85.18 582.90,86.30" fill="none" stroke="#4a3a34" stroke-width="0.7" stroke-linejoin="round"/>
<path d="M583.6,85.6 C584.8,87.5 584.2,89.2 583,90 M584.4,87.2 L594.4,91.6 M583.2,89.9 L588.2,96.2 M586.6,89.2 L591.5,93.2" fill="none" stroke="#5a4a44" stroke-width="0.6" stroke-linejoin="round"/>
<path d="M587.90,94.90 C587.40,95.98 587.23,98.67 587.40,99.90 C587.57,101.13 587.98,102.07 588.90,102.30 C589.82,102.53 591.25,101.78 592.90,101.30 C594.55,100.82 597.15,99.72 598.80,99.40 C600.45,99.08 601.77,99.90 602.80,99.40 C603.83,98.90 604.83,97.40 605.00,96.40 C605.17,95.40 604.58,94.15 603.80,93.40 C603.02,92.65 601.53,92.18 600.30,91.90 C599.07,91.62 597.63,91.70 596.40,91.70 C595.17,91.70 593.90,91.62 592.90,91.90 C591.90,92.18 591.23,92.90 590.40,93.40 C589.57,93.90 588.40,93.82 587.90,94.90Z" fill="#fff" stroke="#5a4640" stroke-width="1.0" stroke-linejoin="round"/>
<path d="M589.60,95.40 C589.07,96.33 589.23,98.33 589.40,99.20 C589.57,100.07 589.93,100.50 590.60,100.60 C591.27,100.70 592.07,100.20 593.40,99.80 C594.73,99.40 597.13,98.50 598.60,98.20 C600.07,97.90 601.37,98.33 602.20,98.00 C603.03,97.67 603.53,96.80 603.60,96.20 C603.67,95.60 603.27,94.88 602.60,94.40 C601.93,93.92 600.67,93.50 599.60,93.30 C598.53,93.10 597.37,93.15 596.20,93.20 C595.03,93.25 593.70,93.23 592.60,93.60 C591.50,93.97 590.13,94.47 589.60,95.40Z" fill="none" stroke="#9a7a70" stroke-width="0.5" stroke-linejoin="round"/>
<path d="M552.30,100.90 C552.97,99.68 553.67,98.15 555.00,97.60 C556.33,97.05 558.53,97.05 560.30,97.60 C562.07,98.15 564.05,99.45 565.60,100.90 C567.15,102.35 568.03,104.75 569.60,106.30 C571.17,107.85 574.00,108.65 575.00,110.20 C576.00,111.75 576.05,113.70 575.60,115.60 C575.15,117.50 573.73,120.27 572.30,121.60 C570.87,122.93 569.00,123.50 567.00,123.60 C565.00,123.70 562.30,123.10 560.30,122.20 C558.30,121.30 556.45,119.97 555.00,118.20 C553.55,116.43 552.27,113.82 551.60,111.60 C550.93,109.38 550.88,106.68 551.00,104.90 C551.12,103.12 551.63,102.12 552.30,100.90Z" fill="#cacaca" stroke="#5a5a5a" stroke-width="0.8" stroke-linejoin="round"/>
<rect x="282.9" y="570.4" width="133.0" height="25.399999999999977" fill="#d9d9d9"/>
<rect x="415.9" y="595.8" width="132.60000000000002" height="37.5" fill="#d9d9d9"/>
<rect x="548.5" y="633.3" width="132.0" height="24.90000000000009" fill="#d9d9d9"/>
<line x1="21.1" y1="545.6" x2="680.5" y2="545.6" stroke="#6e6e6e" stroke-width="1"/>
<line x1="21.1" y1="570.4" x2="680.5" y2="570.4" stroke="#6e6e6e" stroke-width="1"/>
<line x1="21.1" y1="595.8" x2="680.5" y2="595.8" stroke="#6e6e6e" stroke-width="1"/>
<line x1="21.1" y1="633.3" x2="680.5" y2="633.3" stroke="#6e6e6e" stroke-width="1"/>
<line x1="21.1" y1="658.2" x2="680.5" y2="658.2" stroke="#6e6e6e" stroke-width="1"/>
<line x1="21.1" y1="545.1" x2="21.1" y2="658.7" stroke="#6e6e6e" stroke-width="1"/>
<line x1="282.9" y1="545.1" x2="282.9" y2="658.7" stroke="#6e6e6e" stroke-width="1"/>
<line x1="415.9" y1="545.1" x2="415.9" y2="658.7" stroke="#6e6e6e" stroke-width="1"/>
<line x1="548.5" y1="545.1" x2="548.5" y2="658.7" stroke="#6e6e6e" stroke-width="1"/>
<line x1="680.5" y1="545.1" x2="680.5" y2="658.7" stroke="#6e6e6e" stroke-width="1"/>
<text x="29.6" y="561.9" font-size="9.85" fill="#1c1c1c" stroke="#1c1c1c" stroke-width="0.2" textLength="82.2" lengthAdjust="spacing">Audiogram feature</text>
<text x="290.4" y="555.2" font-size="9.85" fill="#1c1c1c" stroke="#1c1c1c" stroke-width="0.2" textLength="77.8" lengthAdjust="spacing">Ossicular fixation</text>
<text x="290.4" y="567.4" font-size="9.85" fill="#1c1c1c" stroke="#1c1c1c" stroke-width="0.2" textLength="32.8" lengthAdjust="spacing">(<tspan font-style="italic">n</tspan> = 64)</text>
<text x="423.4" y="555.2" font-size="9.85" fill="#1c1c1c" stroke="#1c1c1c" stroke-width="0.2" textLength="103.3" lengthAdjust="spacing">Ossicular discontinuity</text>
<text x="423.4" y="567.4" font-size="9.85" fill="#1c1c1c" stroke="#1c1c1c" stroke-width="0.2" textLength="32.5" lengthAdjust="spacing">(<tspan font-style="italic">n</tspan> = 32)</text>
<text x="555.9" y="555.2" font-size="9.85" fill="#1c1c1c" stroke="#1c1c1c" stroke-width="0.2" textLength="94.8" lengthAdjust="spacing">Tympanic membrane</text>
<text x="555.9" y="567.4" font-size="9.85" fill="#1c1c1c" stroke="#1c1c1c" stroke-width="0.2" textLength="84.5" lengthAdjust="spacing">perforation (<tspan font-style="italic">n</tspan> = 54)</text>
<text x="29.6" y="581.0" font-size="9.85" fill="#1c1c1c" stroke="#1c1c1c" stroke-width="0.2" textLength="131.2" lengthAdjust="spacing">AC upslope at 250 Hz &amp; 4 kHz</text>
<text x="290.4" y="581.0" font-size="9.85" fill="#1c1c1c" stroke="#1c1c1c" stroke-width="0.2" textLength="47.5" lengthAdjust="spacing">53 (82.8%)</text>
<text x="423.4" y="581.0" font-size="9.85" fill="#1c1c1c" stroke="#1c1c1c" stroke-width="0.2" textLength="47.5" lengthAdjust="spacing"> 8 (25.0%)</text>
<text x="555.9" y="581.0" font-size="9.85" fill="#1c1c1c" stroke="#1c1c1c" stroke-width="0.2" textLength="47.5" lengthAdjust="spacing">24 (44.4%)</text>
<text x="29.6" y="593.2" font-size="9.85" fill="#1c1c1c" stroke="#1c1c1c" stroke-width="0.2" textLength="75.0" lengthAdjust="spacing">BC peak at 2 kHz</text>
<text x="290.4" y="593.2" font-size="9.85" fill="#1c1c1c" stroke="#1c1c1c" stroke-width="0.2" textLength="47.5" lengthAdjust="spacing">37 (57.8%)</text>
<text x="423.4" y="593.2" font-size="9.85" fill="#1c1c1c" stroke="#1c1c1c" stroke-width="0.2" textLength="47.5" lengthAdjust="spacing">13 (40.6%)</text>
<text x="555.9" y="593.2" font-size="9.85" fill="#1c1c1c" stroke="#1c1c1c" stroke-width="0.2" textLength="47.5" lengthAdjust="spacing">15 (27.8%)</text>
<text x="29.6" y="605.8" font-size="9.85" fill="#1c1c1c" stroke="#1c1c1c" stroke-width="0.2" textLength="143.8" lengthAdjust="spacing">AC downslope at 250 Hz &amp; 4 kHz</text>
<text x="290.4" y="605.8" font-size="9.85" fill="#1c1c1c" stroke="#1c1c1c" stroke-width="0.2" textLength="47.5" lengthAdjust="spacing"> 7 (10.9%)</text>
<text x="423.4" y="605.8" font-size="9.85" fill="#1c1c1c" stroke="#1c1c1c" stroke-width="0.2" textLength="47.5" lengthAdjust="spacing">22 (68.6%)</text>
<text x="555.9" y="605.8" font-size="9.85" fill="#1c1c1c" stroke="#1c1c1c" stroke-width="0.2" textLength="47.5" lengthAdjust="spacing">27 (50.0%)</text>
<text x="29.6" y="618.0" font-size="9.85" fill="#1c1c1c" stroke="#1c1c1c" stroke-width="0.2" textLength="212.2" lengthAdjust="spacing">BC difference ≥10 dB HL between 1 kHz &amp; 3 kHz</text>
<text x="290.4" y="618.0" font-size="9.85" fill="#1c1c1c" stroke="#1c1c1c" stroke-width="0.2" textLength="47.5" lengthAdjust="spacing">19 (30.9%)</text>
<text x="423.4" y="618.0" font-size="9.85" fill="#1c1c1c" stroke="#1c1c1c" stroke-width="0.2" textLength="47.5" lengthAdjust="spacing">24 (75.0%)</text>
<text x="555.9" y="618.0" font-size="9.85" fill="#1c1c1c" stroke="#1c1c1c" stroke-width="0.2" textLength="47.5" lengthAdjust="spacing">20 (37.0%)</text>
<text x="29.6" y="630.3" font-size="9.85" fill="#1c1c1c" stroke="#1c1c1c" stroke-width="0.2" textLength="74.8" lengthAdjust="spacing">BC peak at 3 kHz</text>
<text x="290.4" y="630.3" font-size="9.85" fill="#1c1c1c" stroke="#1c1c1c" stroke-width="0.2" textLength="47.5" lengthAdjust="spacing">20 (31.3%)</text>
<text x="423.4" y="630.3" font-size="9.85" fill="#1c1c1c" stroke="#1c1c1c" stroke-width="0.2" textLength="47.5" lengthAdjust="spacing">18 (56.3%)</text>
<text x="555.9" y="630.3" font-size="9.85" fill="#1c1c1c" stroke="#1c1c1c" stroke-width="0.2" textLength="47.5" lengthAdjust="spacing">20 (37.0%)</text>
<text x="29.6" y="643.6" font-size="9.85" fill="#1c1c1c" stroke="#1c1c1c" stroke-width="0.2" textLength="240.7" lengthAdjust="spacing">AC difference ≥5 dB HL between 1 kHz &amp; 125 Hz/8 kHz</text>
<text x="29.6" y="655.7" font-size="9.85" fill="#1c1c1c" stroke="#1c1c1c" stroke-width="0.2" textLength="35.0" lengthAdjust="spacing">average</text>
<text x="290.4" y="649.6" font-size="9.85" fill="#1c1c1c" stroke="#1c1c1c" stroke-width="0.2" textLength="47.5" lengthAdjust="spacing">17 (26.6%)</text>
<text x="423.4" y="649.6" font-size="9.85" fill="#1c1c1c" stroke="#1c1c1c" stroke-width="0.2" textLength="47.5" lengthAdjust="spacing">15 (46.9%)</text>
<text x="555.9" y="649.6" font-size="9.85" fill="#1c1c1c" stroke="#1c1c1c" stroke-width="0.2" textLength="47.5" lengthAdjust="spacing">39 (72.2%)</text>
</svg>
</body></html>
